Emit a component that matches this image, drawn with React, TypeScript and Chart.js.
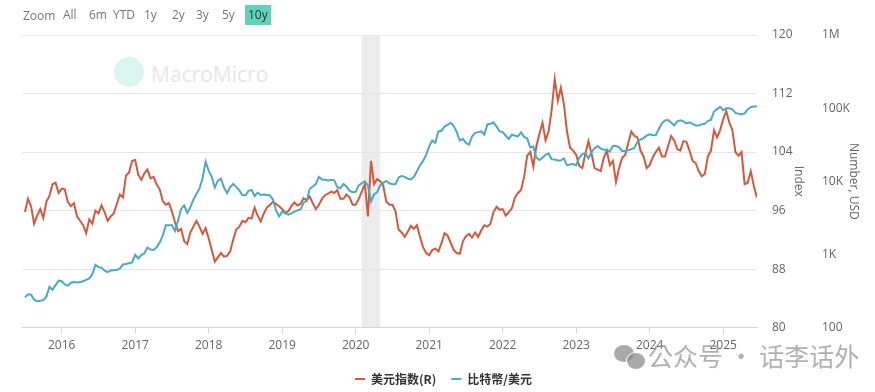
import React, { useEffect, useRef } from "react";
import { Chart, registerables } from "chart.js";

Chart.register(...registerables);

// ---- data (semi-monthly readings: 1st and 2nd half of each month) ----
const months = [
  "2015-07", "2015-08", "2015-09", "2015-10", "2015-11", "2015-12",
  "2016-01", "2016-02", "2016-03", "2016-04", "2016-05", "2016-06", "2016-07", "2016-08", "2016-09", "2016-10", "2016-11", "2016-12",
  "2017-01", "2017-02", "2017-03", "2017-04", "2017-05", "2017-06", "2017-07", "2017-08", "2017-09", "2017-10", "2017-11", "2017-12",
  "2018-01", "2018-02", "2018-03", "2018-04", "2018-05", "2018-06", "2018-07", "2018-08", "2018-09", "2018-10", "2018-11", "2018-12",
  "2019-01", "2019-02", "2019-03", "2019-04", "2019-05", "2019-06", "2019-07", "2019-08", "2019-09", "2019-10", "2019-11", "2019-12",
  "2020-01", "2020-02", "2020-03", "2020-04", "2020-05", "2020-06", "2020-07", "2020-08", "2020-09", "2020-10", "2020-11", "2020-12",
  "2021-01", "2021-02", "2021-03", "2021-04", "2021-05", "2021-06", "2021-07", "2021-08", "2021-09", "2021-10", "2021-11", "2021-12",
  "2022-01", "2022-02", "2022-03", "2022-04", "2022-05", "2022-06", "2022-07", "2022-08", "2022-09", "2022-10", "2022-11", "2022-12",
  "2023-01", "2023-02", "2023-03", "2023-04", "2023-05", "2023-06", "2023-07", "2023-08", "2023-09", "2023-10", "2023-11", "2023-12",
  "2024-01", "2024-02", "2024-03", "2024-04", "2024-05", "2024-06", "2024-07", "2024-08", "2024-09", "2024-10", "2024-11", "2024-12",
  "2025-01", "2025-02", "2025-03", "2025-04", "2025-05", "2025-06",
];

// 美元指數 (Index axis)
const dxyIndex = [
  95.8, 97.6, 96.6, 94.2, 95.3, 96.2, 95.0, 97.2, 98.0, 99.6, 99.8, 98.4,
  99.0, 98.9, 97.2, 96.6, 97.0, 95.2, 94.6, 94.0, 92.9, 94.8, 94.2, 96.0, 95.6, 96.7, 95.8, 94.6, 95.2, 95.6, 96.9, 98.2, 97.8, 100.8, 101.2, 102.8,
  102.9, 100.9, 100.2, 101.1, 101.6, 100.4, 100.6, 99.6, 98.9, 97.3, 96.8, 97.0, 95.9, 94.4, 93.2, 93.5, 91.8, 91.4, 93.0, 93.8, 94.6, 93.8, 92.8, 93.6,
  92.2, 90.6, 89.0, 89.6, 90.2, 89.7, 89.8, 90.4, 92.0, 93.4, 93.8, 94.6, 94.4, 95.0, 94.9, 96.4, 95.3, 94.5, 95.6, 96.4, 96.8, 97.2, 96.9, 96.6,
  96.2, 95.7, 95.9, 96.6, 97.1, 96.7, 96.9, 97.7, 97.4, 97.9, 97.0, 96.2, 96.8, 97.6, 98.1, 98.3, 98.6, 98.4, 98.8, 97.6, 97.6, 98.2, 97.8, 96.8,
  96.8, 97.6, 98.6, 99.6, 95.2, 102.8, 99.6, 100.3, 100.0, 99.4, 97.2, 96.8, 96.8, 95.9, 93.4, 93.0, 92.4, 93.1, 93.9, 93.5, 94.0, 92.4, 91.0, 90.2,
  89.9, 90.6, 90.8, 90.4, 91.5, 92.9, 92.6, 91.6, 90.6, 90.2, 90.1, 91.8, 92.5, 92.8, 92.3, 93.0, 92.4, 93.3, 94.0, 93.8, 94.2, 95.8, 96.5, 96.1,
  96.2, 95.3, 95.8, 96.3, 97.8, 98.4, 98.8, 100.6, 103.5, 104.0, 102.0, 104.8, 106.5, 108.0, 105.6, 106.8, 109.8, 114.0, 111.0, 112.8, 110.5, 106.8, 104.6, 104.2,
  103.6, 102.1, 101.8, 103.8, 105.5, 103.8, 101.8, 101.6, 101.4, 103.2, 104.2, 102.2, 102.8, 99.9, 101.8, 103.2, 103.6, 105.2, 106.8, 106.2, 106.0, 104.2, 103.4, 101.8,
  102.2, 103.3, 104.0, 104.6, 103.4, 103.4, 104.8, 106.2, 105.6, 104.4, 104.2, 105.5, 105.4, 104.2, 102.8, 102.5, 101.4, 100.7, 101.0, 103.4, 104.2, 107.0, 106.0, 107.0,
  108.5, 109.6, 108.0, 107.0, 104.0, 103.5, 104.0, 99.6, 99.8, 101.4, 99.4, 97.8,
];

// 比特幣/美元 (Number, USD — log axis)
const btcUsd = [
  260, 285, 282, 240, 230, 232, 238, 265, 360, 330, 380, 440,
  430, 390, 375, 410, 420, 415, 420, 430, 450, 470, 540, 720, 670, 660, 600, 575, 605, 610, 615, 640, 730, 740, 760, 780,
  990, 880, 980, 1030, 1250, 1170, 1150, 1250, 1450, 1800, 2500, 2500, 2500, 2100, 2900, 4200, 4700, 3700, 4400, 5600, 6700, 8000, 11000, 18500,
  14000, 11500, 8200, 10200, 10900, 8200, 6900, 8300, 9200, 8400, 7500, 6500, 6400, 7400, 7600, 6300, 7000, 6500, 6600, 6500, 6400, 5600, 4000, 3300,
  3850, 3650, 3500, 3650, 3850, 4000, 4150, 5100, 5400, 7900, 8500, 9200, 11500, 10600, 10500, 10300, 10500, 10300, 8300, 8000, 9200, 8500, 7400, 7100,
  7200, 8800, 9400, 10000, 8800, 5300, 6600, 7100, 8800, 9500, 10100, 9400, 9100, 9200, 11300, 11800, 11500, 10800, 10600, 11500, 13700, 16500, 19000, 23000,
  30000, 36000, 33500, 48000, 49000, 56000, 59000, 63000, 57000, 47000, 36000, 38000, 33500, 31800, 41000, 46000, 47000, 48000, 43500, 60000, 61000, 64000, 56000, 48000,
  47000, 42000, 38000, 43500, 42000, 41000, 46500, 40500, 38500, 29000, 30000, 21000, 19500, 21000, 23000, 24000, 20000, 19800, 19300, 19200, 20500, 16600, 17000, 17200,
  16600, 21000, 23500, 24200, 20500, 25000, 28400, 30300, 28000, 27000, 27000, 25500, 30600, 30300, 29200, 26000, 25900, 26600, 27500, 28500, 34800, 37000, 39000, 42000,
  44000, 42500, 43000, 52000, 62000, 68000, 69000, 63500, 58000, 66000, 68000, 66000, 62000, 64000, 61000, 58000, 58000, 60000, 61000, 67000, 69000, 90000, 97000, 104000,
  94000, 100000, 100000, 96000, 86000, 84000, 82000, 85000, 96000, 103000, 105000, 106000,
];

const xTickYears = [2016, 2017, 2018, 2019, 2020, 2021, 2022, 2023, 2024, 2025];
const indexTicks = [80, 88, 96, 104, 112, 120];
const usdTicks = [100, 1000, 10000, 100000, 1000000];
const usdTickLabels = ["100", "1K", "10K", "100K", "1M"];
const xRange = [2015.46, 2025.46];
const recessionBand = [2020.083, 2020.333]; // Feb–Apr 2020
const zoomLabel = "Zoom";
const zoomButtons = ["All", "6m", "YTD", "1y", "2y", "3y", "5y", "10y"];
const zoomButtonLeft = [63, 89, 113, 144, 172, 196, 222, 248];
const seriesNames = ["美元指数(R)", "比特幣/美元"];

const RED = "#d5583d";
const BLUE = "#4aa9c3";
const FONT = "'Open Sans', 'Noto Sans CJK TC', sans-serif";
const CJK = "'Noto Sans CJK TC', 'Noto Sans CJK SC', sans-serif";

function monthTime(m: string, half: number) {
  const [y, mo] = m.split("-").map(Number);
  return y + (mo - 1) / 12 + half / 24;
}

function toPoints(values: number[]) {
  const pts: { x: number; y: number }[] = [];
  months.forEach((m, i) => {
    pts.push({ x: monthTime(m, 0), y: values[2 * i] });
    pts.push({ x: monthTime(m, 1), y: values[2 * i + 1] });
  });
  return pts;
}

const bandPlugin = {
  id: "recessionBand",
  beforeDraw(chart: any) {
    const { ctx, chartArea, scales } = chart;
    const x0 = scales.x.getPixelForValue(recessionBand[0]);
    const x1 = scales.x.getPixelForValue(recessionBand[1]);
    ctx.save();
    ctx.fillStyle = "#ececec";
    ctx.fillRect(x0, chartArea.top, x1 - x0, chartArea.bottom - chartArea.top);
    ctx.restore();
  },
};

export default function App() {
  const canvasRef = useRef<HTMLCanvasElement | null>(null);

  useEffect(() => {
    document.body.style.margin = "0";
    const canvas = canvasRef.current;
    if (!canvas) return;
    const chart = new Chart(canvas, {
      type: "line",
      data: {
        datasets: [
          {
            label: seriesNames[0],
            data: toPoints(dxyIndex),
            borderColor: RED,
            backgroundColor: RED,
            borderWidth: 2,
            pointRadius: 0,
            tension: 0,
            yAxisID: "y",
            order: 1,
          },
          {
            label: seriesNames[1],
            data: toPoints(btcUsd),
            borderColor: BLUE,
            backgroundColor: BLUE,
            borderWidth: 2,
            pointRadius: 0,
            tension: 0,
            yAxisID: "y2",
            order: 0,
          },
        ],
      },
      options: {
        animation: false,
        responsive: false,
        maintainAspectRatio: false,
        parsing: false as any,
        layout: { padding: { left: 22, right: 10, top: 35, bottom: 0 } },
        plugins: {
          tooltip: { enabled: false },
          legend: {
            position: "bottom",
            labels: {
              boxWidth: 10,
              boxHeight: 2,
              padding: 15,
              color: "#333",
              font: { size: 12, family: CJK, weight: "bold" },
              sort: (a: any, b: any) => a.datasetIndex - b.datasetIndex,
              generateLabels: (c: any) =>
                (Chart.defaults.plugins.legend.labels as any)
                  .generateLabels(c)
                  .map((l: any) => ({ ...l, lineWidth: 0 })),
            },
          },
        },
        scales: {
          x: {
            type: "linear",
            min: xRange[0],
            max: xRange[1],
            afterBuildTicks: (s: any) => {
              s.ticks = xTickYears.map((v) => ({ value: v }));
            },
            ticks: {
              callback: (v: any) => String(v),
              color: "#666",
              font: { size: 12, family: FONT },
              padding: 5,
              maxRotation: 0,
              autoSkip: false,
            },
            grid: { drawOnChartArea: false, drawTicks: true, tickLength: 6, color: "#d6d6d6" },
            border: { display: true, color: "#d6d6d6" },
          },
          y: {
            type: "linear",
            position: "right",
            weight: 0,
            min: 80,
            max: 120,
            afterBuildTicks: (s: any) => {
              s.ticks = indexTicks.map((v) => ({ value: v }));
            },
            ticks: { color: "#666", font: { size: 12, family: FONT }, padding: 15 },
            grid: { color: "#e6e6e6", drawTicks: false },
            border: { display: false },
            title: { display: true, text: "Index", color: "#666", font: { size: 12, family: FONT } },
            afterFit: (s: any) => {
              s.width = 53;
            },
          },
          y2: {
            type: "logarithmic",
            position: "right",
            weight: 1,
            min: 100,
            max: 1000000,
            afterBuildTicks: (s: any) => {
              s.ticks = usdTicks.map((v) => ({ value: v }));
            },
            ticks: {
              color: "#666",
              font: { size: 12, family: FONT },
              padding: 12,
              callback: (v: any) => usdTickLabels[usdTicks.indexOf(Number(v))] ?? "",
            },
            grid: { display: false, drawTicks: false },
            border: { display: false },
            title: { display: true, text: "Number, USD", color: "#666", font: { size: 12, family: FONT } },
            afterFit: (s: any) => {
              s.width = 55;
            },
          },
        },
      } as any,
      plugins: [bandPlugin],
    });
    return () => chart.destroy();
  }, []);

  return (
    <div style={{ position: "absolute", left: 0, top: 0, width: 875, height: 392, overflow: "hidden", background: "#fff", fontFamily: FONT }}>
      {/* MacroMicro watermark (behind chart) */}
      <div style={{ position: "absolute", left: 114, top: 57, width: 30, height: 30, borderRadius: "50%", background: "#dcf4ee" }} />
      <div style={{ position: "absolute", left: 151, top: 60, fontSize: 21, color: "#e6e6e6", fontFamily: FONT, letterSpacing: 0 }}>MacroMicro</div>
      <canvas ref={canvasRef} width={875} height={395} style={{ position: "absolute", left: 0, top: 0, width: 875, height: 395 }} />
      {/* range selector */}
      <div style={{ position: "absolute", left: 23, top: 7, fontSize: 12, color: "#777" }}>{zoomLabel}</div>
      {zoomButtons.map((b, i) => (
        <div
          key={b}
          style={{
            position: "absolute",
            left: zoomButtonLeft[i] - (b === "10y" ? 3 : 0),
            top: b === "10y" ? 5 : 7,
            fontSize: 12,
            color: b === "10y" ? "#333" : "#777",
            background: b === "10y" ? "#5dd3b7" : "transparent",
            padding: b === "10y" ? "2px 3px" : 0,
            lineHeight: "16px",
          }}
        >
          {b}
        </div>
      ))}
      {/* WeChat repost watermark */}
      <div style={{ position: "absolute", left: 614, top: 345, width: 20, height: 17, borderRadius: "50%", background: "rgba(140,140,140,0.75)" }} />
      <div style={{ position: "absolute", left: 626, top: 352, width: 18, height: 16, borderRadius: "50%", background: "rgba(140,140,140,0.75)", border: "1px solid #fff" }} />
      <div style={{ position: "absolute", left: 648, top: 337, fontSize: 25, color: "rgba(150,150,150,0.75)", fontFamily: CJK, whiteSpace: "nowrap" }}>
        公众号 · 话李话外
      </div>
    </div>
  );
}
